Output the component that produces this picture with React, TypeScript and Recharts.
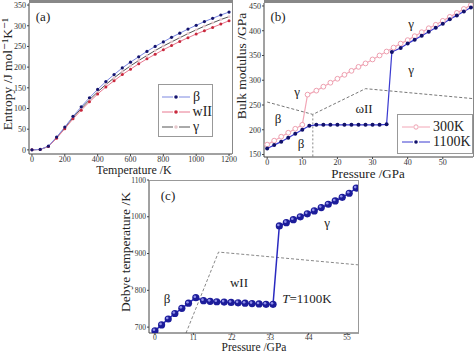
import { LineChart, Line, XAxis, YAxis } from 'recharts';

// (a) entropy vs temperature
const temps = [0, 50, 100, 150, 200, 250, 300, 350, 400, 450, 500, 550, 600, 650, 700, 750, 800, 850, 900, 950, 1000, 1050, 1100, 1150, 1200];
const entropyBeta = [0, 1, 9, 31, 55, 81, 104, 126, 146, 165, 182, 198, 212, 225, 238, 250, 261, 272, 282, 292, 301, 310, 318, 326, 333];
const entropyW = [0, 1, 8, 28, 51, 75, 96, 116, 135, 152, 167, 182, 195, 208, 220, 231, 242, 252, 262, 271, 280, 288, 296, 304, 312];
const entropyGamma = [0, 1, 8, 29, 53, 78, 100, 121, 140, 158, 174, 189, 203, 216, 228, 240, 251, 261, 271, 281, 290, 299, 307, 315, 322];

// (b) bulk modulus vs pressure
const press300 = [0, 2, 4, 6, 8, 10, 11.5, 14, 16, 18, 20, 22, 24, 26, 28, 30, 32, 34, 36, 38, 40, 42, 44, 46, 48, 50, 52, 54, 56, 58];
const bulk300 = [170, 178, 186, 194, 202, 210, 271, 279, 287, 295, 303, 311, 319, 327, 334, 342, 350, 358, 366, 374, 381, 389, 397, 405, 412, 420, 428, 436, 444, 452];
const press1100 = [0, 2, 4, 6, 8, 10, 12, 14, 16, 18, 20, 22, 24, 26, 28, 30, 32, 34, 35.5, 38, 40, 42, 44, 46, 48, 50, 52, 54, 56, 58];
const bulk1100 = [162, 169, 176, 184, 192, 200, 208, 210, 210, 210, 210, 210, 210, 210, 210, 210, 210, 211, 357, 365, 374, 382, 390, 398, 406, 414, 423, 431, 439, 447];
const boundBx = [0, 13, 28, 58.5];
const boundBy = [256, 231, 283, 263];
const stemBx = [13, 13];
const stemBy = [231, 145];

// (c) Debye temperature vs pressure, T = 1100 K
const pressDebye = [0, 1.9, 3.8, 5.7, 7.7, 9.6, 11.7, 13.9, 15.8, 17.7, 19.8, 21.8, 23.8, 25.8, 27.8, 29.8, 31.8, 33.8, 35.6, 37.6, 39.6, 41.6, 43.6, 45.6, 47.6, 49.6, 51.6, 53.6, 55.6, 57.6];
const debye = [690, 706, 722, 737, 751, 765, 780, 772, 770, 769, 768, 767, 766, 765, 764, 763, 762, 762, 975, 984, 992, 1000, 1008, 1016, 1025, 1034, 1043, 1053, 1064, 1078];
const boundCx = [8.9, 18.2, 58.5];
const boundCy = [684, 904, 869];

const zip = (xs: number[], ys: number[]) => xs.map((x, i) => ({ x, y: ys[i] }));

const serif = '"Liberation Serif", "DejaVu Serif", serif';
const tick = { fontSize: 8, fill: '#333', fontFamily: 'Liberation Serif' };
const tickSmall = { fontSize: 7.5, fill: '#333', fontFamily: 'Liberation Serif' };
const axisLine = { stroke: '#444' };

const Sphere = (props: any) => {
  const { cx, cy } = props;
  if (cx == null || cy == null) return null;
  return (
    <g>
      <circle cx={cx} cy={cy} r={3.6} fill="#1c1c9a" />
      <circle cx={cx - 1} cy={cy - 1} r={1.3} fill="#8f8fe8" />
    </g>
  );
};

function Txt({ x, y, size = 12, children }: any) {
  return (
    <div
      style={{
        position: 'absolute',
        left: x,
        top: y,
        transform: 'translate(-50%, -50%)',
        fontFamily: serif,
        fontSize: size,
        lineHeight: 1,
        color: '#222',
        whiteSpace: 'nowrap',
      }}
    >
      {children}
    </div>
  );
}

function VTxt({ x, y, size = 13, children }: any) {
  return (
    <div
      style={{
        position: 'absolute',
        left: x,
        top: y,
        transform: 'translate(-50%, -50%) rotate(-90deg)',
        fontFamily: serif,
        fontSize: size,
        lineHeight: 1,
        color: '#222',
        whiteSpace: 'nowrap',
      }}
    >
      {children}
    </div>
  );
}

function Box({ x, y, w, h, color = '#666', top = 1 }: any) {
  return (
    <div
      style={{
        position: 'absolute',
        left: x,
        top: y,
        width: w,
        height: h,
        borderTop: `${top}px solid ${color}`,
        borderRight: `1px solid ${color}`,
        boxSizing: 'border-box',
        pointerEvents: 'none',
      }}
    />
  );
}

function LegendRow({ line, dot, open, label }: any) {
  return (
    <div style={{ display: 'flex', alignItems: 'center', height: 15 }}>
      <svg width={30} height={10}>
        <line x1={1} y1={5} x2={12} y2={5} stroke={line} strokeWidth={1} />
        <line x1={18} y1={5} x2={29} y2={5} stroke={line} strokeWidth={1} />
        {open ? (
          <circle cx={15} cy={5} r={2.2} fill="#fff" stroke={dot} strokeWidth={1} />
        ) : (
          <circle cx={15} cy={5} r={1.8} fill={dot} />
        )}
      </svg>
      <span style={{ fontFamily: serif, fontSize: 14, color: '#222', marginLeft: 2 }}>{label}</span>
    </div>
  );
}

export default function App() {
  const dataA = temps.map((t, i) => ({ x: t, b: entropyBeta[i], w: entropyW[i], g: entropyGamma[i] }));

  return (
    <div style={{ position: 'absolute', left: 0, top: 0, width: 474, height: 353, background: '#fff', overflow: 'hidden', fontFamily: serif }}>
      <style>{`svg text, .recharts-cartesian-axis-tick-value, .recharts-text { font-family: "Liberation Serif", "DejaVu Serif", serif !important; }`}</style>
      {/* (a) */}
      <div style={{ position: 'absolute', left: 0, top: 0 }}>
        <LineChart width={240} height={180} data={dataA} margin={{ top: 3, right: 8, bottom: 0, left: 0 }}>
          <XAxis
            dataKey="x"
            type="number"
            domain={[-18, 1218]}
            ticks={[0, 200, 400, 600, 800, 1000, 1200]}
            tick={tick}
            axisLine={axisLine}
            tickLine={axisLine}
            tickSize={2}
            tickMargin={0}
            height={26}
            allowDataOverflow
          />
          <YAxis
            type="number"
            domain={[-10, 355]}
            ticks={[0, 50, 100, 150, 200, 250, 300, 350]}
            tick={tick}
            axisLine={axisLine}
            tickLine={axisLine}
            tickSize={2}
            tickMargin={1}
            width={29}
            allowDataOverflow
          />
          <Line dataKey="g" stroke="#555" strokeWidth={1} dot={{ r: 1.4, fill: '#e6c8cc', stroke: 'none' }} isAnimationActive={false} />
          <Line dataKey="w" stroke="#e87890" strokeWidth={1} dot={{ r: 1.5, fill: '#c8283c', stroke: 'none' }} isAnimationActive={false} />
          <Line dataKey="b" stroke="#7c88e0" strokeWidth={1} dot={{ r: 1.6, fill: '#14146e', stroke: 'none' }} isAnimationActive={false} />
        </LineChart>
      </div>
      <Box x={29} y={0} w={204} h={154} color="#888" top={3} />
      <Txt x={43} y={16} size={13}>(a)</Txt>
      <VTxt x={8} y={74} size={13.5}>Entropy /J mol⁻¹K⁻¹</VTxt>
      <Txt x={134} y={169.5} size={12}>Temperature /K</Txt>
      <div style={{ position: 'absolute', left: 158, top: 84, width: 55, height: 53, border: '1px solid #999', boxSizing: 'border-box', padding: '4px 0 0 2px', background: '#fff' }}>
        <LegendRow line="#7c88e0" dot="#14146e" label="β" />
        <LegendRow line="#e87890" dot="#c8283c" label="wII" />
        <LegendRow line="#555" dot="#e6c8cc" label="γ" />
      </div>

      {/* (b) */}
      <div style={{ position: 'absolute', left: 235, top: 0 }}>
        <LineChart width={239} height={180} margin={{ top: 3, right: 1, bottom: 0, left: 0 }}>
          <XAxis
            dataKey="x"
            type="number"
            domain={[-0.9, 58.6]}
            ticks={[0, 10, 20, 30, 40, 50]}
            tick={tick}
            axisLine={axisLine}
            tickLine={axisLine}
            tickSize={2}
            tickMargin={0}
            height={23}
            allowDataOverflow
          />
          <YAxis
            type="number"
            domain={[145, 456]}
            ticks={[150, 200, 250, 300, 350, 400, 450]}
            tick={tick}
            axisLine={axisLine}
            tickLine={axisLine}
            tickSize={2}
            tickMargin={1}
            width={29}
            allowDataOverflow
          />
          <Line data={zip(boundBx, boundBy)} dataKey="y" stroke="#777" strokeWidth={1} strokeDasharray="3 2" dot={false} isAnimationActive={false} />
          <Line data={zip(stemBx, stemBy)} dataKey="y" stroke="#888" strokeWidth={1} strokeDasharray="2 2" dot={false} isAnimationActive={false} />
          <Line data={zip(press300, bulk300)} dataKey="y" stroke="#f2a6b6" strokeWidth={1.2} dot={{ r: 2.4, fill: '#fff', stroke: '#eea0b0', strokeWidth: 1 }} isAnimationActive={false} />
          <Line data={zip(press1100, bulk1100)} dataKey="y" stroke="#3a3ad0" strokeWidth={1.2} dot={{ r: 2, fill: '#10106a', stroke: 'none' }} isAnimationActive={false} />
        </LineChart>
      </div>
      <Box x={264} y={0} w={210} h={157} color="#888" top={3} />
      <Txt x={278} y={16} size={13}>(b)</Txt>
      <Txt x={297} y={91} size={13}>γ</Txt>
      <Txt x={278} y={118} size={13}>β</Txt>
      <Txt x={301} y={143} size={13}>β</Txt>
      <Txt x={364} y={108} size={13}>ωII</Txt>
      <Txt x={411} y={23} size={13}>γ</Txt>
      <Txt x={411} y={69} size={13}>γ</Txt>
      <VTxt x={242} y={66} size={13.5}>Bulk modulus /GPa</VTxt>
      <Txt x={368} y={173} size={13}>Pressure /GPa</Txt>
      <div style={{ position: 'absolute', left: 397, top: 114, width: 76, height: 40, border: '1px solid #999', boxSizing: 'border-box', padding: '4px 0 0 3px', background: '#fff' }}>
        <LegendRow line="#f2a6b6" dot="#eea0b0" open label="300K" />
        <LegendRow line="#3a3ad0" dot="#10106a" label="1100K" />
      </div>

      {/* (c) */}
      <div style={{ position: 'absolute', left: 100, top: 170 }}>
        <LineChart width={265} height={183} margin={{ top: 10, right: 6, bottom: 0, left: 0 }}>
          <XAxis
            dataKey="x"
            type="number"
            domain={[-1.7, 58.4]}
            ticks={[0, 11, 22, 33, 44, 55]}
            tick={tickSmall}
            axisLine={axisLine}
            tickLine={axisLine}
            tickSize={2}
            tickMargin={0}
            height={20}
            allowDataOverflow
          />
          <YAxis
            type="number"
            domain={[684, 1100]}
            ticks={[700, 800, 900, 1000, 1100]}
            tick={tickSmall}
            axisLine={axisLine}
            tickLine={axisLine}
            tickSize={2}
            tickMargin={1}
            width={49}
            allowDataOverflow
          />
          <Line data={zip(boundCx, boundCy)} dataKey="y" stroke="#888" strokeWidth={1} strokeDasharray="3 2" dot={false} isAnimationActive={false} />
          <Line data={zip(pressDebye, debye)} dataKey="y" stroke="#2a2ac0" strokeWidth={1.5} dot={<Sphere />} isAnimationActive={false} />
        </LineChart>
      </div>
      <Box x={149} y={180} w={210} h={153} color="#999" />
      <Txt x={168} y={195} size={13}>(c)</Txt>
      <Txt x={167} y={298} size={13}>β</Txt>
      <Txt x={239} y={282} size={13}>wII</Txt>
      <Txt x={327} y={222} size={13}>γ</Txt>
      <Txt x={307} y={298} size={13}><i>T</i>=1100K</Txt>
      <VTxt x={126} y={252} size={13.5}>Debye temperature /K</VTxt>
      <Txt x={254} y={347.5} size={11.5}>Pressure /GPa</Txt>
    </div>
  );
}
